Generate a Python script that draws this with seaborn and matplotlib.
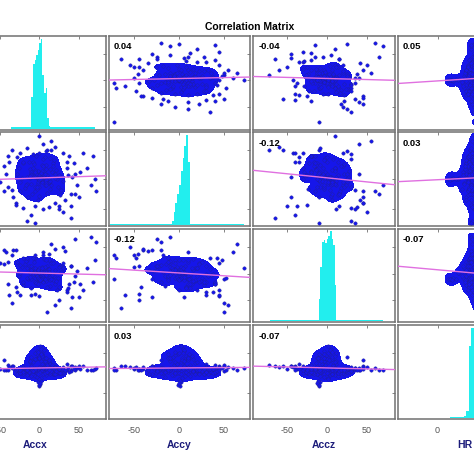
import numpy as np
import pandas as pd
import matplotlib
matplotlib.use("Agg")
import matplotlib.pyplot as plt
from matplotlib.colors import ListedColormap
import seaborn as sns

# variables of the correlation matrix
names = ["Accx", "Accy", "Accz", "HR"]

accx = [2, -12, 15, -5, 8, -22, 20, 0, -8, 12,
        -18, 25, 5, -2, 10, -26, 18, -10, 30, -4,
        6, -14, 22, -28, 14, -6, 3, 28, -20, 9,
        -9, 17, -1, 24, -16, 11, -24, 4, 19, -13,
        1, -3, 4, 0, 2, -1, 5, -4, 3, 6,
        -10, 12, -6, 9, 14, -12, 7, -8, 16, 0,
        8, -6, 2, 14, -15, 20, -3, 5, -10, 0,
        -20, 26, -7, 13, -25, 21, 7, -17, 10, -2,
        45, -50, 60, 5, -10, 40, -35, 70, 0, 30,
        -60, 50, 72, -40, 20, -15, 55, 65, -30, 35,
        -80, 15, 40, -45, 68, 25, -5, 10, -55, 45,
        35, -35, 40, -38, 30, -30, 42, -42, 8, -5,
        15, -20, 33, -28, 48, -45, 38, -33, 25, -15,
        0, 12, -8, 36, 44, -40, 20, -25, 52, 5,
        -10, 7, -3, 12, -12, 4, -6, 9, 2, -2,
        0, 1, -1, 2, 0, 1]
accy = [5, 18, -10, -20, 25, 2, 10, -28, 30, -4,
        -15, 8, 35, -8, -22, 20, 28, 12, -2, 40,
        15, -30, 0, 10, 36, -12, -2, -18, 28, 6,
        -25, 22, 14, -12, 4, -6, -20, 24, 32, 30,
        2, 6, -1, 8, 4, 0, 3, 10, -4, 5,
        10, -5, 16, 18, -2, 2, -10, 20, 12, -12,
        -6, 12, 3, 18, -8, 2, -16, 22, 7, 0,
        30, -26, 26, -16, -4, 16, 38, -10, 8, -34,
        10, -5, 20, 60, -60, -45, 50, 0, 72, -55,
        35, -30, -20, 40, 55, -70, 45, -10, -40, 30,
        -72, 65, -65, -20, 40, -45, -72, 50, 10, -25,
        20, -18, -25, 30, 45, -42, 5, 10, 48, -45,
        50, -48, -35, 38, -10, 22, 40, -30, -50, 52,
        45, -46, 42, 8, 28, -12, -40, 44, 12, -50,
        -7, 10, -12, 3, 6, 14, 4, -10, 11, -4,
        1, 0, 2, 1, -1, 0]
accz = [-3, 10, 20, -15, -8, 12, -20, 5, 0, 25,
        18, -25, 8, 2, 15, -5, -12, -28, 10, -18,
        28, -10, -30, 22, -2, 30, 12, 4, -22, -12,
        6, 20, -20, -8, 26, 8, 16, -14, -4, 14,
        1, -4, 3, -6, 5, 2, -2, 0, -8, 4,
        -10, 8, 6, -14, -6, 2, 12, 10, -2, -12,
        4, -9, 1, -12, 10, 6, -4, -16, 14, 2,
        -16, 14, 22, -24, 2, -14, 0, 24, -26, 6,
        -5, 20, 10, 40, -40, 15, -55, 25, 10, 50,
        30, -45, 60, -20, -60, 30, -30, 70, 45, -35,
        -10, 55, -65, 45, -15, -50, 35, -72, 25, 65,
        -30, 35, 15, -40, 20, -25, -45, 40, 25, -38,
        -10, 30, 42, -35, 5, 18, -20, 45, 12, -8,
        -42, 38, 30, -28, -15, 22, 46, -40, -20, 35,
        6, -11, -4, 3, -7, 10, 11, -3, -10, 7,
        -10, -11, -9, -11, -10, -12]
hr = [40, 30, 28, 31, 29, 27, 26, 30, 27, 26,
      27, 25, 26, 44, 28, 26, 24, 27, 25, 25,
      26, 24, 25, 24, 26, 27, 36, 25, 24, 33,
      29, 25, 30, 26, 30, 35, 25, 28, 24, 26,
      58, 52, 48, 46, 55, 50, 44, 42, 47, 53,
      41, 38, 42, 37, 36, 39, 40, 38, 35, 43,
      22, 21, 18, 23, 22, 24, 20, 23, 21, 17,
      26, 25, 27, 26, 25, 27, 25, 28, 26, 24,
      32, 30, 28, 31, 34, 29, 33, 30, 31, 32,
      30, 33, 31, 35, 32, 29, 34, 28, 30, 36,
      31, 29, 33, 41, 28, 30, 28, 35, 45, 29,
      29, 31, 27, 32, 30, 28, 33, 29, 31, 30,
      27, 32, 28, 30, 31, 29, 26, 33, 30, 28,
      32, 29, 27, 31, 30, 28, 32, 29, 30, 31,
      45, 44, 48, 41, 40, 46, 50, 43, 49, 51,
      9, 11, 13, 15, 10, 12]
# which part of the cloud each observation belongs to
group = (["core"] * 40 + ["dome"] * 20 + ["lower"] * 10 + ["core"] * 10
         + ["outlier"] * 30 + ["halo"] * 30 + ["dome"] * 10 + ["spike"] * 6)

# correlation coefficients printed in the panels
corr = [[1.00, 0.04, -0.04, 0.05],
        [0.04, 1.00, -0.12, 0.03],
        [-0.04, -0.12, 1.00, -0.07],
        [0.05, 0.03, -0.07, 1.00]]

# diagonal histograms (bin edges, counts)
accx_edges = [-36, -10, -8, -6, -4, -2, 0, 2, 4, 6, 8, 10, 12, 14, 70]
accx_counts = [1.5, 35, 72, 76, 82, 88, 95, 100, 60, 40, 45, 12, 3, 1.5]
accy_edges = [-77, -8, -6, -4, -2, 0, 2, 4, 6, 8, 10, 12, 72]
accy_counts = [1.5, 5, 15, 25, 35, 45, 60, 75, 88, 100, 70, 1.5]
accz_edges = [-71, -10, -8, -6, -4, -2, 0, 2, 4, 6, 8, 10, 12, 70]
accz_counts = [1.5, 25, 60, 88, 90, 87, 92, 95, 100, 92, 85, 40, 1.5]
hr_edges = [10, 22, 24, 26, 28, 30, 32, 34, 36, 40, 45, 50, 60]
hr_counts = [1.5, 2, 8, 80, 100, 95, 85, 70, 50, 30, 15, 5]

df = pd.DataFrame({"Accx": accx, "Accy": accy, "Accz": accz, "HR": hr})
df[names] = df[names].astype(float)
df["group"] = group
dense = df[df["group"].isin(["core", "dome", "lower"])]

hists = {"Accx": (accx_edges, accx_counts), "Accy": (accy_edges, accy_counts),
         "Accz": (accz_edges, accz_counts), "HR": (hr_edges, hr_counts)}

xlims = {"Accx": (-94, 84.5), "Accy": (-78, 79), "Accz": (-92, 85), "HR": (-33, 77.8)}
ylims = {"Accx": (-94, 84.5), "Accy": (-78, 79), "Accz": (-92, 85), "HR": (-33, 84.5)}
ticks = {"Accx": [-50, 0, 50], "Accy": [-50, 0, 50], "Accz": [-50, 0, 50], "HR": [0, 50]}

sns.set_theme(style="white")
plt.rcParams["font.family"] = ["Liberation Sans", "DejaVu Sans"]
plt.rcParams["axes.unicode_minus"] = False

BLUE = "#1616ea"
EDGE = "#20209a"
CYAN = "#22eeee"
LINE = "#e070e0"
FRAME = "#707070"

W = 474.0
fig = plt.figure(figsize=(4.74, 4.74), dpi=100)
fig.patch.set_facecolor("white")

col_left = [-35, 109, 253.5, 398]
col_w = [141, 141, 141, 133]
row_top = [36, 132.3, 228.6, 325.3]
ah = 93.8

for i, yn in enumerate(names):
    for j, xn in enumerate(names):
        ax = fig.add_axes([col_left[j] / W, 1 - (row_top[i] + ah) / W, col_w[j] / W, ah / W])
        ax.set_facecolor("white")
        if i == j:
            edges, counts = hists[xn]
            centers = [(a + b) / 2 for a, b in zip(edges[:-1], edges[1:])]
            hax = ax.inset_axes([0, 0, 1, 1])
            sns.histplot(x=centers, weights=counts, bins=edges, ax=hax,
                         color=CYAN, alpha=1, linewidth=0)
            hax.set_xlim(xlims[xn])
            hax.set_ylim(-1.2, 103)
            hax.set(xlabel="", ylabel="", xticks=[], yticks=[])
            hax.set_axis_off()
            hax.patch.set_alpha(0)
        else:
            if xn == "HR":
                # the HR wall covers the whole spread of the other variable
                sns.kdeplot(data=df, x=xn, y=yn, ax=ax, fill=True, levels=[0.04, 1],
                            cmap=ListedColormap([BLUE]), bw_adjust=0.55)
            else:
                sns.kdeplot(data=dense, x=xn, y=yn, ax=ax, fill=True, levels=[0.08, 1],
                            cmap=ListedColormap([BLUE]), bw_adjust=0.9)
            sns.scatterplot(data=df, x=xn, y=yn, ax=ax, s=6, color=BLUE, edgecolor=EDGE,
                            linewidth=0.3, legend=False, zorder=3)
            x = df[xn]
            y = df[yn]
            r = corr[i][j]
            slope = r * y.std() / x.std()
            ax.axline((x.mean(), y.mean()), slope=slope, color=LINE, lw=1.0, zorder=4)
            if j > 0:
                ax.text(0.035, 0.885, f"{r:.2f}", transform=ax.transAxes, fontsize=6.8,
                        fontweight="bold", color="black", va="center", ha="left", zorder=5)
        ax.set_xlim(xlims[xn])
        ax.set_ylim(ylims[yn])
        ax.set_xticks(ticks[xn])
        ax.set_yticks(ticks[yn])
        ax.tick_params(direction="in", length=2.5, width=0.6, color=FRAME,
                       top=True, right=True, labelsize=6.5, labelcolor="#555555",
                       pad=5, labelbottom=(i == 3), labelleft=False)
        for sp in ax.spines.values():
            sp.set_color(FRAME)
            sp.set_linewidth(1.1)
        ax.set_xlabel(xn if i == 3 else "", fontsize=7.5, fontweight="bold",
                      color="#1c1c7a", labelpad=3.5)
        ax.set_ylabel("")

fig.text(250 / W, 1 - 27 / W, "Correlation Matrix", fontsize=7.5, fontweight="bold",
         ha="center", va="center", color="black")

fig.savefig("out.png", dpi=100, facecolor="white")
